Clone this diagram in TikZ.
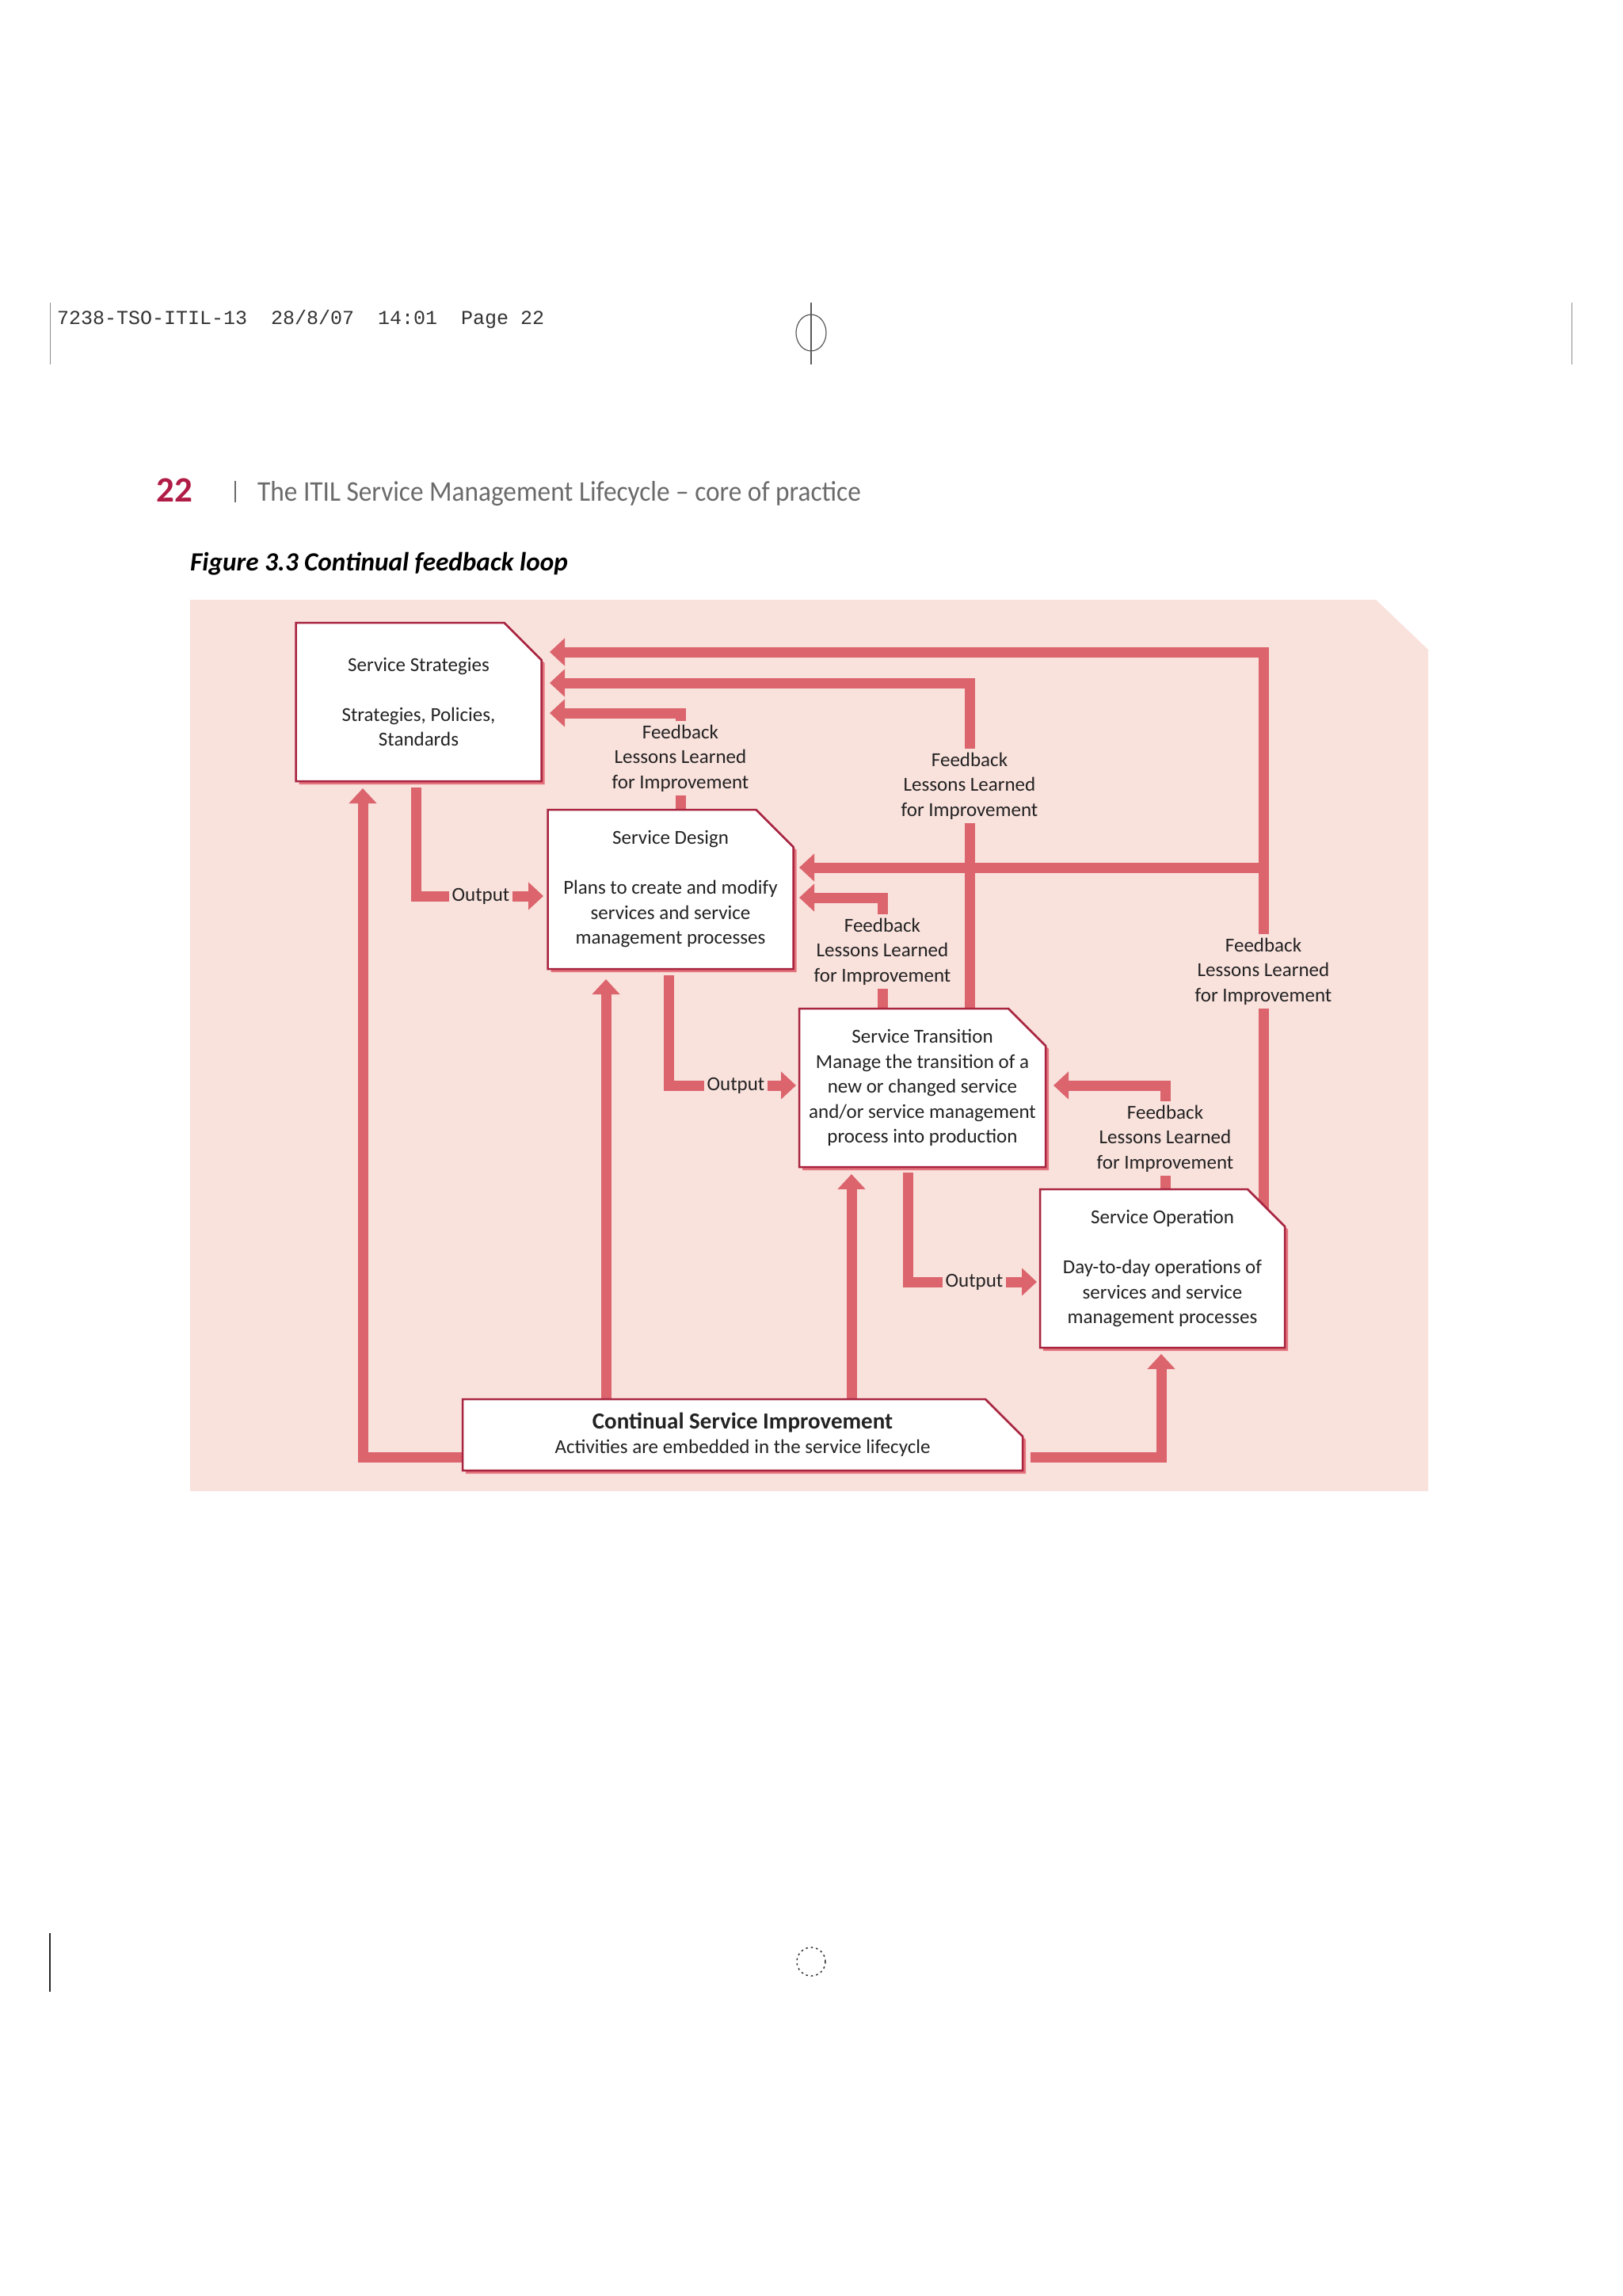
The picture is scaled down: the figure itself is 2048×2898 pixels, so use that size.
\documentclass[tikz,border=0pt]{standalone}
\usepackage{fontspec}
\usepackage{graphicx}
\setmainfont{Carlito}
\newfontfamily\monof{Liberation Mono}
\usetikzlibrary{arrows.meta,calc}
\definecolor{panel}{HTML}{F9E1DC}
\definecolor{flowc}{HTML}{DB646D}
\definecolor{boxborder}{HTML}{A8243F}
\definecolor{boxshadow}{HTML}{E4737D}
\definecolor{crimson}{HTML}{B01C45}
\definecolor{txt}{HTML}{222222}
\definecolor{hdgray}{HTML}{6A6A6A}
\definecolor{hdtxt}{HTML}{333333}
\pgfdeclarelayer{bg}
\pgfdeclarelayer{lines}
\pgfdeclarelayer{boxes}
\pgfsetlayers{bg,lines,boxes,main}
\tikzset{
  flow/.style={draw=flowc, line width=13pt},
  flowarr/.style={flow, -{Triangle[width=34pt,length=19pt]}},
  bodytxt/.style={font=\fontsize{25}{31.5}\selectfont, text=txt},
  lbl/.style={bodytxt, align=center, inner xsep=2pt, inner ysep=5pt},
  outlbl/.style={bodytxt, inner xsep=3pt, inner ysep=2pt},
  boxn/.style={bodytxt, align=center, minimum width=310pt, minimum height=200pt, inner sep=0pt, outer sep=0pt},
}
\newcommand\cutboxshape[1]{%
  \begin{pgfonlayer}{boxes}
  \fill[boxshadow] ([shift={(4pt,-4pt)}]#1.south west) -- ([shift={(4pt,-4pt)}]#1.north west)
    -- ([shift={(-43pt,-4pt)}]#1.north east) -- ([shift={(4pt,-51pt)}]#1.north east)
    -- ([shift={(4pt,-4pt)}]#1.south east) -- cycle;
  \filldraw[fill=white, draw=boxborder, line width=2.5pt] (#1.south west) -- (#1.north west)
    -- ([xshift=-47pt]#1.north east) -- ([yshift=-47pt]#1.north east)
    -- (#1.south east) -- cycle;
  \end{pgfonlayer}}
\begin{document}
\begin{tikzpicture}[x=1pt,y=-1pt,line join=miter]
\useasboundingbox (0,0) rectangle (2048,2898);
\begin{pgfonlayer}{bg}
\fill[white] (0,0) rectangle (2048,2898);
\fill[panel] (240,757) -- (1737,757) -- (1803,820) -- (1803,1882) -- (240,1882) -- cycle;
\end{pgfonlayer}

% page furniture
\node[font=\monof\fontsize{25}{30}\selectfont, text=hdtxt, anchor=west, inner sep=0pt] (hdr) at (72,403) {7238-TSO-ITIL-13\ \ 28/8/07\ \ 14:01\ \ Page 22};
\draw[black!45, line width=1pt] (63,382) -- (63,460);
\draw[black!45, line width=1pt] (1984,382) -- (1984,460);
\draw[black!65, line width=1.2pt] (1024,382) -- (1024,460);
\draw[black!65, line width=1.2pt] (1024,420) ellipse[x radius=19pt, y radius=23pt];
\draw[black!85, line width=2pt] (63,2440) -- (63,2514);
\draw[black!80, line width=1.5pt, dash pattern=on 2.5pt off 4pt] (1024,2476) circle[radius=18pt];
\node[font=\bfseries\fontsize{45}{52}\selectfont, text=crimson, inner sep=0pt] (pgnum) at (220,619) {22};
\draw[hdgray, line width=1.5pt] (297,607) -- (297,634);
\node[font=\fontsize{36}{42}\selectfont, text=hdgray, anchor=west, inner sep=0pt] (runhead) at (325,623) {\scalebox{0.925}[1]{The ITIL Service Management Lifecycle – core of practice}};
\node[font=\bfseries\itshape\fontsize{33.2}{38}\selectfont, text=black, anchor=west, inner sep=0pt] (figcap) at (240,712) {Figure 3.3 Continual feedback loop};

% boxes
\node[boxn] (SS) at (528.5,886) {Service Strategies\\[31.5pt]Strategies, Policies,\\Standards};
\node[boxn, minimum height=201pt] (SD) at (846.5,1122.5) {Service Design\\[31.5pt]Plans to create and modify\\services and service\\management processes};
\node[boxn, minimum width=311pt] (ST) at (1164.5,1373) {Service Transition\\Manage the transition of a\\new or changed service\\and/or service management\\process into production};
\node[boxn, minimum width=309pt] (SO) at (1467.5,1601) {Service Operation\\[31.5pt]Day-to-day operations of\\services and service\\management processes};
\node[boxn, minimum width=707pt, minimum height=90pt] (CSI) at (937.5,1811) {{\bfseries\fontsize{29}{32}\selectfont Continual Service Improvement}\\Activities are embedded in the service lifecycle};
\cutboxshape{SS}
\cutboxshape{SD}
\cutboxshape{ST}
\cutboxshape{SO}
\cutboxshape{CSI}

% labels
\node[lbl] (L1) at (859,957) {Feedback\\Lessons Learned\\for Improvement};
\node[lbl] (L2) at (1224,992) {Feedback\\Lessons Learned\\for Improvement};
\node[lbl] (L3) at (1114,1201) {Feedback\\Lessons Learned\\for Improvement};
\node[lbl] (L4) at (1595,1226) {Feedback\\Lessons Learned\\for Improvement};
\node[lbl] (L5) at (1471,1437) {Feedback\\Lessons Learned\\for Improvement};
\node[outlbl] (O1) at (607,1131) {Output};
\node[outlbl] (O2) at (929,1370) {Output};
\node[outlbl] (O3) at (1230,1618) {Output};

% arrow tips
\coordinate (tSS1) at (694,823);
\coordinate (tSS2) at (694,862);
\coordinate (tSS3) at (694,900);
\coordinate (tSS4) at (458,995);
\coordinate (tSD1) at (1009,1095);
\coordinate (tSD2) at (1009,1133);
\coordinate (tSD3) at (686,1131);
\coordinate (tSD4) at (765,1236);
\coordinate (tST1) at (1330,1370);
\coordinate (tST2) at (1005,1370);
\coordinate (tST3) at (1075,1482);
\coordinate (tSO1) at (1309,1618);
\coordinate (tSO2) at (1466,1709);

\begin{pgfonlayer}{lines}
% feedback
\draw[flow] ([yshift=-25pt]L4 |- SO.north) -- (L4.south);
\draw[flowarr] (L4.north) |- (tSS1);
\draw[flowarr] (L4 |- tSD1) -- (tSD1);
\draw[flow] (L2 |- ST.north) -- (L2.south);
\draw[flowarr] (L2.north) |- (tSS2);
\draw[flow] (L1 |- SD.north) -- (L1.south);
\draw[flowarr] (L1.north) |- (tSS3);
\draw[flow] (L3 |- ST.north) -- (L3.south);
\draw[flowarr] (L3.north) |- (tSD2);
\draw[flow] (L5 |- SO.north) -- (L5.south);
\draw[flowarr] (L5.north) |- (tST1);
% outputs
\draw[flow] ([xshift=-3.5pt,yshift=-8pt]SS.south) |- (O1.west);
\draw[flowarr] (O1.east) -- (tSD3);
\draw[flow] ([xshift=-2.5pt,yshift=-8pt]SD.south) |- (O2.west);
\draw[flowarr] (O2.east) -- (tST2);
\draw[flow] ([xshift=-18.5pt,yshift=-7pt]ST.south) |- (O3.west);
\draw[flowarr] (O3.east) -- (tSO1);
% CSI
\draw[flowarr] ([yshift=-28pt]CSI.west) -| (tSS4);
\draw[flowarr] (CSI.north -| tSD4) -- (tSD4);
\draw[flowarr] (CSI.north -| tST3) -- (tST3);
\draw[flowarr] ([xshift=10pt,yshift=-28pt]CSI.east) -| (tSO2);
\end{pgfonlayer}
\end{tikzpicture}
\end{document}
